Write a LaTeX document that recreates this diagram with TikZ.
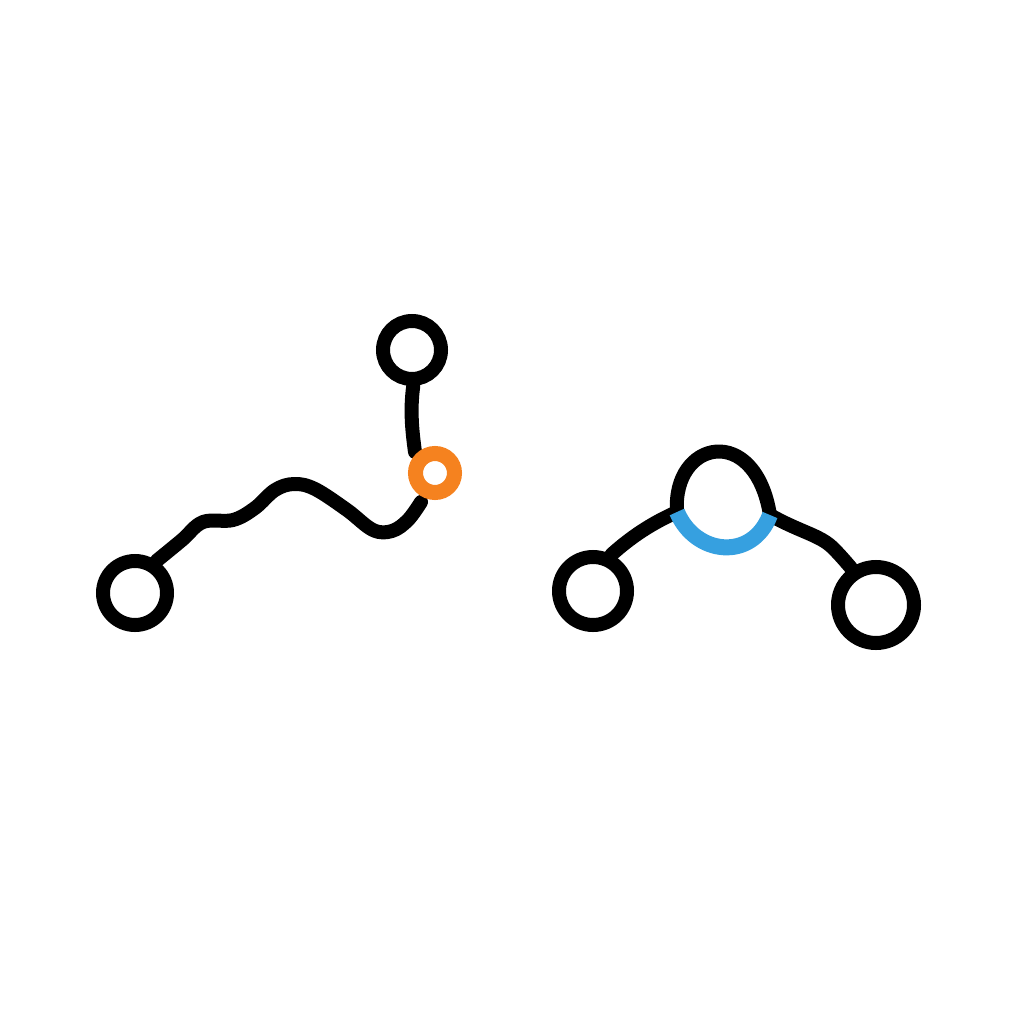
\documentclass[tikz,border=0pt]{standalone}
\usepackage{tikz}
\definecolor{ringorange}{HTML}{F5821F}
\definecolor{arcblue}{HTML}{36A0E0}

\begin{document}
\begin{tikzpicture}[x=1pt,y=-1pt,
  wire/.style={line width=14pt,line cap=round,line join=round},
  blob/.style={circle,draw,line width=14pt,inner sep=0pt}]
\useasboundingbox[fill=white] (0,0) rectangle (1024,1024);

% Left chain: circles and ring
\node[blob,minimum size=64pt] (bl) at (135,593) {};
\node[blob,minimum size=58pt] (tc) at (412,350) {};

% Wavy line and stem
\draw[wire] plot[smooth,tension=0.6] coordinates {(bl.56) (182,540) (203,522) (233,520)
  (255,508) (275,490) (294,484) (315,489) (347,510) (373,530) (392,531) (408,520) (421,502)};
\draw[wire] (tc.-88) .. controls (410,410) and (412,430) .. (415,452);

\node[blob,draw=ringorange,line width=15pt,minimum size=39pt] (ring) at (435,473) {};

% Right chain: circles
\node[blob,minimum size=68pt] (rl) at (593,591) {};
\node[blob,minimum size=76pt] (rr) at (876,605) {};

% Loop joints
\coordinate (jl) at (677,512);
\coordinate (jr) at (770,515);

% Connectors
\draw[wire] (rl.63) .. controls (630,538) and (650,524) .. (jl);
\draw[wire] (jr) .. controls (800,532) and (820,535) .. (833,548)
  .. controls (840,555) and (846,562) .. (rr.124);

% Loop: black top, blue bottom
\draw[wire] (jl) .. controls (672,440) and (755,422) .. (jr);
\draw[wire,draw=arcblue,line width=16pt,line cap=butt] (jl) .. controls (695,555) and (752,562) .. (jr);
\end{tikzpicture}
\end{document}
